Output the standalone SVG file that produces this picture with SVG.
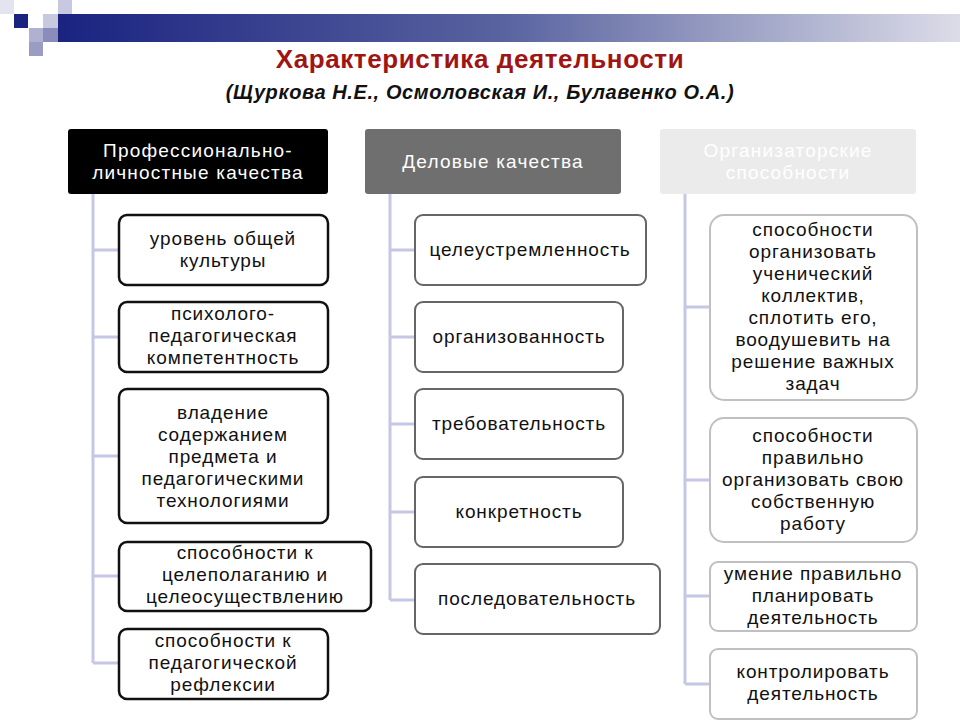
<svg xmlns="http://www.w3.org/2000/svg" width="960" height="720" viewBox="0 0 960 720">
<defs>
<linearGradient id="bar" x1="0" x2="1" y1="0" y2="0"><stop offset="0" stop-color="#1a2380"/><stop offset="0.5" stop-color="#5a64a0"/><stop offset="1" stop-color="#dcdce8"/></linearGradient>
</defs>
<style>
text{font-family:"Liberation Sans",Arial,sans-serif;text-anchor:middle}
.t{font-size:19px;letter-spacing:0.9px;fill:#111}
.h{font-size:19px;letter-spacing:1.2px;fill:#fff}
.b1{fill:#fff;stroke:#111;stroke-width:2.5}
.b2{fill:#fff;stroke:#666;stroke-width:2}
.b3{fill:#fff;stroke:#c0c0c0;stroke-width:2}
.c{stroke:#c6c6e6;stroke-width:3;fill:none}
</style>
<g id="deco">
<rect x="58" y="14" width="902" height="28" fill="url(#bar)"/>
<rect x="0" y="0" width="14" height="14" fill="#e4e4f0"/>
<rect x="14" y="14" width="14" height="14" fill="#1a2380"/>
<rect x="43" y="14" width="15" height="14" fill="#c8c8e0"/>
<rect x="58" y="0" width="14" height="14" fill="#c8c8e0"/>
<rect x="29" y="28" width="14" height="14" fill="#b0b0d0"/>
<rect x="43" y="28" width="15" height="14" fill="#8a8cbc"/>
<rect x="29" y="42" width="14" height="14" fill="#9a9cc4"/>
</g>
<text x="480" y="68" style="font-size:26px;letter-spacing:0.6px;font-weight:bold;fill:#a01414">Характеристика деятельности</text>
<text x="480" y="99" style="font-size:20px;letter-spacing:0.6px;font-weight:bold;font-style:italic;fill:#111">(Щуркова Н.Е., Осмоловская И., Булавенко О.А.)</text>
<g id="connectors">
<path class="c" d="M93 194V663M93 250H119M93 337H119M93 456H119M93 576H119M93 663H119"/>
<path class="c" d="M390 194V600M390 250H415M390 337H415M390 424H415M390 512H415M390 600H415"/>
<path class="c" d="M685 194V684M685 307H710M685 480H710M685 596H710M685 684H710"/>
</g>
<g id="h1"><rect x="68" y="129" width="260" height="65" rx="3" fill="#000"/><text class="h" x="198" y="157">Профессионально-</text><text class="h" x="198" y="179">личностные качества</text></g>
<g id="h2"><rect x="365" y="129" width="256" height="65" rx="3" fill="#6f6f6f"/><text class="h" x="493" y="168">Деловые качества</text></g>
<g id="h3"><rect x="660" y="129" width="256" height="65" rx="3" fill="#ebebeb"/><text class="h" x="788" y="157">Организаторские</text><text class="h" x="788" y="179">способности</text></g>
<g id="n1"><rect class="b1" x="119" y="215" width="209" height="70" rx="8"/><text class="t" x="223" y="245">уровень общей</text><text class="t" x="223" y="267">культуры</text></g>
<g id="n2"><rect class="b1" x="119" y="302" width="209" height="70" rx="8"/><text class="t" x="223" y="320">психолого-</text><text class="t" x="223" y="342">педагогическая</text><text class="t" x="223" y="364">компетентность</text></g>
<g id="n3"><rect class="b1" x="119" y="389" width="209" height="134" rx="8"/><text class="t" x="223" y="419">владение</text><text class="t" x="223" y="441">содержанием</text><text class="t" x="223" y="463">предмета и</text><text class="t" x="223" y="485">педагогическими</text><text class="t" x="223" y="507">технологиями</text></g>
<g id="n4"><rect class="b1" x="119" y="542" width="252" height="69" rx="8"/><text class="t" x="245" y="559">способности к</text><text class="t" x="245" y="581">целеполаганию и</text><text class="t" x="245" y="603">целеосуществлению</text></g>
<g id="n5"><rect class="b1" x="119" y="629" width="209" height="70" rx="8"/><text class="t" x="223" y="647">способности к</text><text class="t" x="223" y="669">педагогической</text><text class="t" x="223" y="691">рефлексии</text></g>
<g id="m1"><rect class="b2" x="415" y="215" width="231" height="70" rx="8"/><text class="t" x="530" y="256">целеустремленность</text></g>
<g id="m2"><rect class="b2" x="415" y="302" width="208" height="70" rx="8"/><text class="t" x="519" y="343">организованность</text></g>
<g id="m3"><rect class="b2" x="415" y="389" width="208" height="70" rx="8"/><text class="t" x="519" y="430">требовательность</text></g>
<g id="m4"><rect class="b2" x="415" y="477" width="208" height="70" rx="8"/><text class="t" x="519" y="518">конкретность</text></g>
<g id="m5"><rect class="b2" x="415" y="564" width="245" height="70" rx="8"/><text class="t" x="537" y="605">последовательность</text></g>
<g id="r1"><rect class="b3" x="710" y="215" width="207" height="185" rx="14"/><text class="t" x="813" y="236">способности</text><text class="t" x="813" y="258">организовать</text><text class="t" x="813" y="280">ученический</text><text class="t" x="813" y="302">коллектив,</text><text class="t" x="813" y="324">сплотить его,</text><text class="t" x="813" y="346">воодушевить на</text><text class="t" x="813" y="368">решение важных</text><text class="t" x="813" y="390">задач</text></g>
<g id="r2"><rect class="b3" x="710" y="418" width="207" height="124" rx="14"/><text class="t" x="813" y="442">способности</text><text class="t" x="813" y="464">правильно</text><text class="t" x="813" y="486">организовать свою</text><text class="t" x="813" y="508">собственную</text><text class="t" x="813" y="530">работу</text></g>
<g id="r3"><rect class="b3" x="710" y="562" width="207" height="69" rx="8"/><text class="t" x="813" y="580">умение правильно</text><text class="t" x="813" y="602">планировать</text><text class="t" x="813" y="624">деятельность</text></g>
<g id="r4"><rect class="b3" x="710" y="649" width="207" height="70" rx="8"/><text class="t" x="813" y="678">контролировать</text><text class="t" x="813" y="700">деятельность</text></g>
</svg>
